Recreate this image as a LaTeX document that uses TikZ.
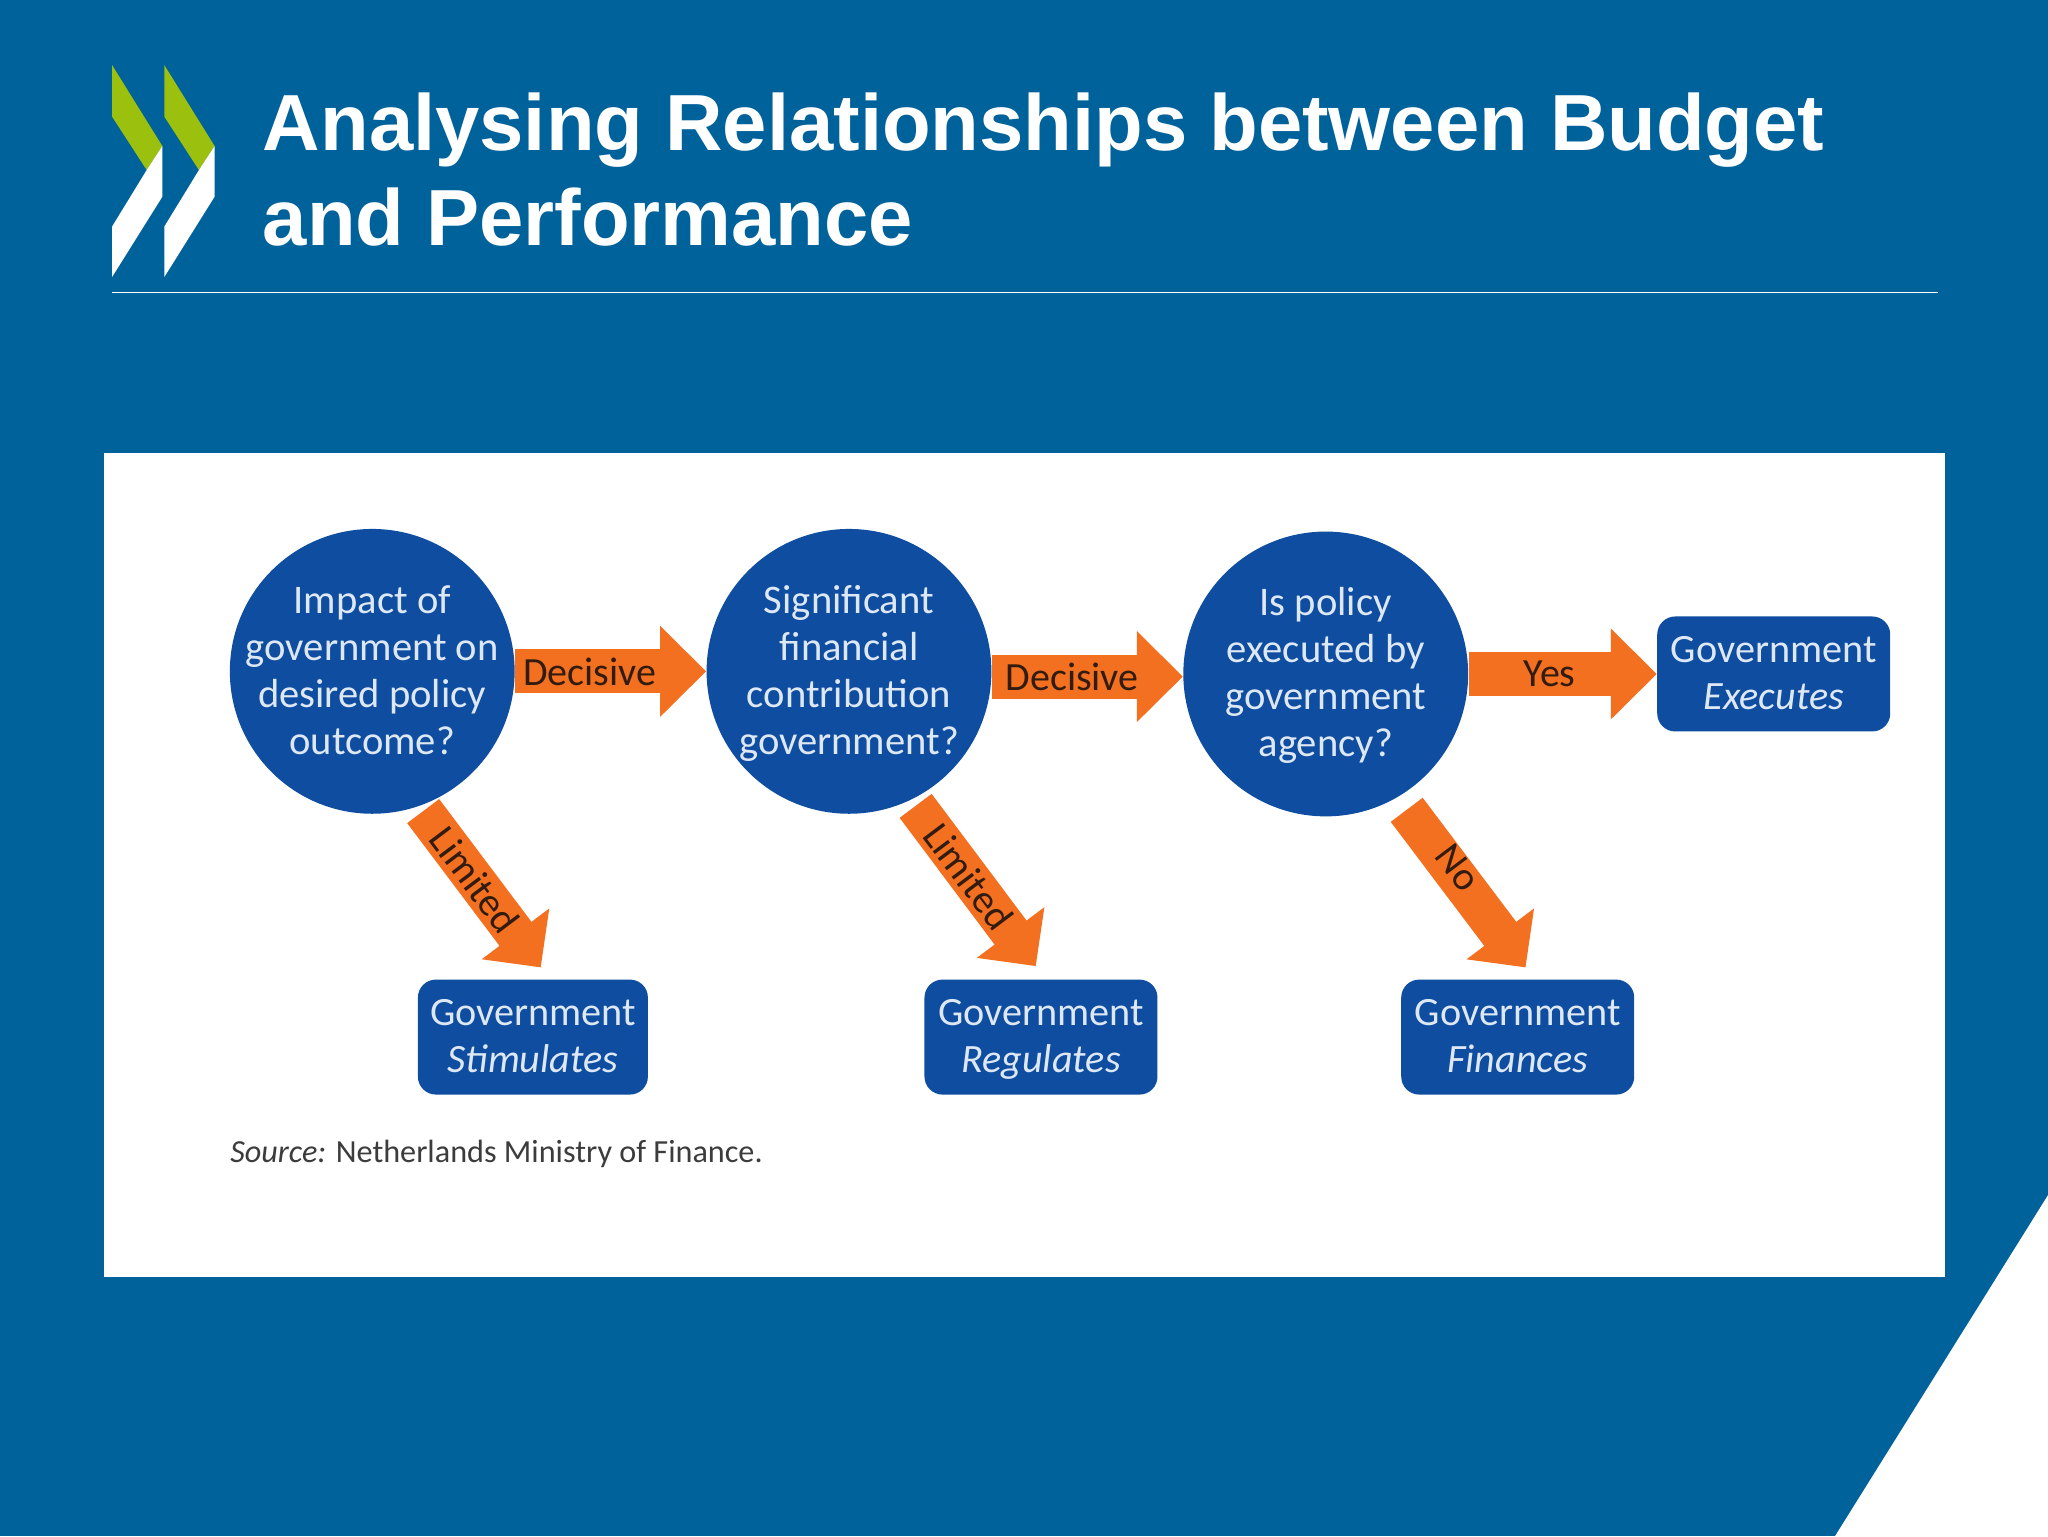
\documentclass[tikz,border=0pt]{standalone}
\usepackage{fontspec}
\setmainfont{Liberation Sans}
\newfontfamily\dgm{Carlito}
\usetikzlibrary{arrows.meta,calc}
\newcommand\firstline{\rule{0pt}{19.2pt}}
\definecolor{bgblue}{RGB}{0,98,155}
\definecolor{logogreen}{RGB}{155,192,13}
\definecolor{nodeblue}{RGB}{14,77,160}
\definecolor{arroworange}{RGB}{243,112,33}
\definecolor{nodetext}{RGB}{222,232,244}
\definecolor{arrowtext}{RGB}{50,28,15}
\definecolor{sourcetext}{RGB}{60,60,60}
\tikzset{
  question/.style={circle,fill=nodeblue,text=nodetext,minimum size=142.4pt,inner sep=-30pt,align=center,font=\dgm\fontsize{20.3}{23.5}\selectfont},
  outcome/.style={rectangle,rounded corners=9pt,fill=nodeblue,text=nodetext,minimum width=115pt,minimum height=57.5pt,inner sep=0pt,align=center,font=\dgm\fontsize{20.1}{23.5}\selectfont},
  flowh/.style={draw=arroworange,line width=22pt,-{Triangle[length=23pt,width=44pt,fill=arroworange]}},
  flowd/.style={draw=arroworange,line width=20pt,-{Triangle[length=21pt,width=41pt,fill=arroworange]}},
  flowlabel/.style={text=arrowtext,font=\dgm\fontsize{20}{23}\selectfont,inner sep=0pt},
  titletext/.style={text=white,anchor=base west,inner sep=0pt,font=\bfseries\fontsize{39.8}{47}\selectfont}
}
\begin{document}
\begin{tikzpicture}[x=0.65306pt,y=-0.65306pt]
\useasboundingbox (0,0) rectangle (1568,1176);
\fill[bgblue] (0,0) rectangle (1568,1176);
\fill[white] (1568,915) -- (1405,1176) -- (1568,1176) -- cycle;
% logo
\foreach \d in {0,40}{
  \begin{scope}[xshift=\d*0.65306pt]
  \fill[logogreen] (85.8,49.8) -- (124.3,111.8) -- (112.3,130.2) -- (85.8,89.3) -- cycle;
  \fill[white] (124.3,111.8) -- (124.3,150.6) -- (85.8,212.1) -- (85.8,173.5) -- (112.3,130.2) -- cycle;
  \end{scope}
}
\draw[white,line width=0.8pt] (86,224) -- (1484,224);
\node[titletext] (t1) at (201,115) {Analysing Relationships between Budget};
\node[titletext] (t2) at (201,188) {and Performance};
\fill[white] (80,347) rectangle (1489,978);
% questions
\node[question] (q1) at (285,514) {\firstline Impact of\\government on\\desired policy\\outcome?\strut};
\node[question] (q2) at (650,514) {\firstline Significant\\financial\\contribution\\government?\strut};
\node[question] (q3) at (1015,516) {\firstline Is policy\\executed by\\government\\agency?\strut};
% outcomes
\node[outcome] (s) at (408,794) {\firstline Government\\\itshape Stimulates\strut};
\node[outcome,minimum width=116.5pt] (r) at (797,794) {\firstline Government\\\itshape Regulates\strut};
\node[outcome,minimum width=116.5pt] (f) at (1162,794) {\firstline Government\\\itshape Finances\strut};
\node[outcome,minimum width=116.5pt] (e) at (1358,516) {\firstline Government\\\itshape Executes\strut};
% connectors
\draw[flowh] (q1.east) -- node[flowlabel,pos=0.39,yshift=-0.5pt] {Decisive} (q2.west);
\draw[flowh] ($(q2.east)+(0,4)$) -- node[flowlabel,pos=0.42] {Decisive} ($(q3.west)+(0,2)$);
\draw[flowh] (q3.east) -- node[flowlabel,pos=0.43] {Yes} (e.west);
\draw[flowd] ($(q1)+(39,107)$) -- node[flowlabel,sloped,pos=0.44] {Limited} ($(s.north)+(6,-9)$);
\draw[flowd] ($(q2)+(51,103)$) -- node[flowlabel,sloped,pos=0.44] {Limited} ($(r.north)+(-4,-10)$);
\draw[flowd] ($(q3)+(62,104)$) -- node[flowlabel,sloped,pos=0.39,yshift=3pt] {No} ($(f.north)+(6,-9)$);
% source
\node[anchor=base west,inner sep=0pt,text=sourcetext,font=\dgm\fontsize{16.1}{20}\selectfont] (src) at (176,890) {\textit{Source:} Netherlands Ministry of Finance.};
\end{tikzpicture}
\end{document}
